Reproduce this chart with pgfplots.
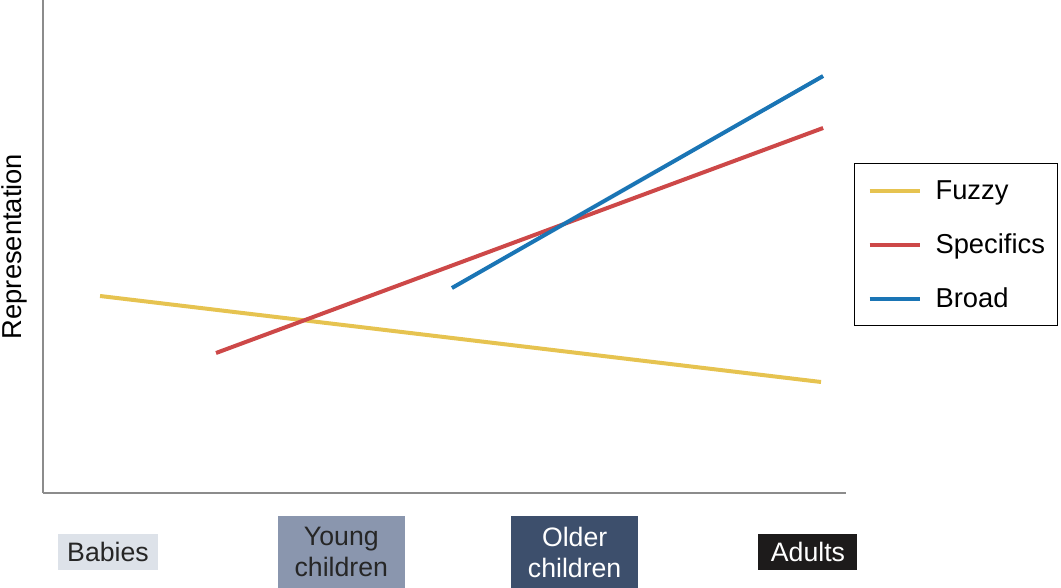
\documentclass[border=0pt]{standalone}
\usepackage{pgfplots}
\pgfplotsset{compat=1.18}
\usepackage{fontspec}
\setmainfont{Liberation Sans}
\definecolor{fuzzy}{HTML}{E6C350}
\definecolor{spec}{HTML}{CD4848}
\definecolor{broad}{HTML}{1A75B5}
\definecolor{axgray}{HTML}{8C8C8C}
\definecolor{catA}{HTML}{DDE2E9}
\definecolor{catB}{HTML}{8A96AE}
\definecolor{catC}{HTML}{3D4F6C}
\definecolor{catD}{HTML}{1D1B1B}
\newcommand{\catlab}[5]{{\setlength{\fboxsep}{0pt}\colorbox{#1}{\parbox[c][#4][c]{#3}{\centering\fontsize{20}{23.25}\selectfont\color{#2}#5}}}}
\begin{document}
\begin{tikzpicture}
\begin{axis}[
  name=ax,
  scale only axis,
  width=602.25pt, height=369.75pt,
  xmin=-0.2786, xmax=3.163,
  ymin=0, ymax=493,
  axis x line=bottom, axis y line=left,
  axis line style={-, draw=axgray, line width=1.5pt},
  ytick=\empty,
  xtick={0,1,2,3},
  major tick length=0pt,
  xticklabels={
    {\catlab{catA}{black!85}{75pt}{27pt}{Babies}},
    {\catlab{catB}{black!85}{95.25pt}{54pt}{Young\\children}},
    {\catlab{catC}{white}{95.25pt}{54pt}{Older\\children}},
    {\catlab{catD}{white}{74.25pt}{27pt}{Adults}}},
  xticklabel style={anchor=center, yshift=-44.25pt, inner sep=0pt},
  ylabel={Representation},
  ylabel style={at={(axis description cs:-0.0355,0.5)}, anchor=center, font=\fontsize{20.5}{24}\selectfont, inner sep=0pt},
  legend cell align=left,
  legend image code/.code={\draw[#1] (0pt,0pt) -- (38pt,0pt);},
  legend style={at={(1.0100,0.6694)}, anchor=north west, draw=black, line width=0.8pt,
    inner xsep=9.75pt, inner ysep=12.75pt, row sep=25.5pt, column sep=10pt,
    font=\fontsize{20.5}{24}\selectfont,
    nodes={inner sep=0pt, text height=14pt, text depth=1pt}},
]
\addplot[fuzzy, line width=3pt] coordinates {(-0.034,197) (3.056,111)};
\addlegendentry{Fuzzy}
\addplot[spec, line width=3pt] coordinates {(0.463,140) (3.065,365)};
\addlegendentry{Specifics}
\addplot[broad, line width=3pt] coordinates {(1.474,205) (3.065,417)};
\addlegendentry{Broad}
\end{axis}
\pgfresetboundingbox
\path[use as bounding box] (-32.25pt,-71.25pt) rectangle (763.5pt,369.75pt);
\end{tikzpicture}
\end{document}
